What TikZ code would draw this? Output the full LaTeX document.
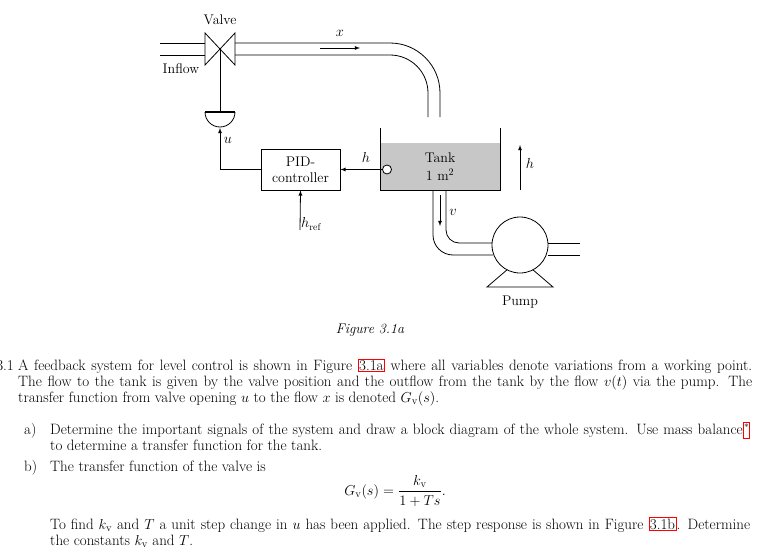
\documentclass[tikz,border=0pt]{standalone}
\usepackage{amsmath}
\usepackage{fontspec}
\newcommand{\rref}[1]{{\setlength{\fboxsep}{0.6pt}\setlength{\fboxrule}{0.8pt}\fcolorbox{red}{white}{#1}}}
\begin{document}
\begin{tikzpicture}[x=1pt,y=-1pt,font=\fontsize{14}{17}\selectfont,
  pipe/.style={line width=0.8pt},
  sig/.style={line width=0.8pt,-latex},
  lbl/.style={inner sep=1pt},
  tline/.style={anchor=base west,inner sep=0pt,font=\fontsize{15}{18}\selectfont}]
\useasboundingbox (0,0) rectangle (763,554);
% inflow pipe and valve
\draw[pipe] (160,43) -- (205,43) (160,55) -- (205,55);
\draw[pipe] (205,33) -- (235,65) -- (235,33) -- (205,65) -- cycle;
\node[lbl] (valve) at (220,20) {Valve};
\node[lbl] (inflow) at (181,69) {Inflow};
\draw[pipe] (235,43) -- (390,43) arc[start angle=-90,end angle=0,radius=50] -- (440,117);
\draw[pipe] (235,55) -- (390,55) arc[start angle=-90,end angle=0,radius=38] -- (428,117);
\coordinate (xa) at (320,48); \coordinate (xb) at (360,48);
\draw[sig] (xa) -- (xb);
\node[lbl] (xl) at (340,33) {$x$};
% actuator
\draw[pipe] (220,49) -- (220,112);
\draw[pipe] (205,112) arc[start angle=180,end angle=0,radius=15];
\draw[line width=1.6pt] (205,112) -- (235,112);
% PID
\node[draw,line width=0.8pt,minimum width=79pt,minimum height=41pt,align=center,inner sep=1pt] (pid) at (300.5,169.5) {PID-\\[-1pt]controller};
\coordinate (uc) at (220,128);
\draw[sig] (pid.west) -- (220,169.5) -- (uc);
\node[lbl] (ul) at (228,140) {$u$};
\coordinate (hr) at (300,230);
\draw[sig] (hr) -- (pid.south);
\node[lbl,anchor=west] (hrl) at (300,224) {$h_{\text{ref}}$};
% tank
\fill[black!22] (380,143) rectangle (500,190);
\draw[pipe] (380,128) -- (380,190) -- (500,190) -- (500,128);
\node[lbl] (tank) at (440,158) {Tank};
\node[lbl] (tank2) at (440,175) {1 m$^2$};
\node[draw,circle,line width=0.8pt,fill=white,minimum size=9pt,inner sep=0pt] (sensor) at (387,169.5) {};
\draw[sig] (sensor) -- (pid.east);
\node[lbl] (hl) at (366,157) {$h$};
\coordinate (ha) at (520,190); \coordinate (hb) at (520,145);
\draw[sig] (ha) -- (hb);
\node[lbl] (hl2) at (530,163) {$h$};
% outlet pipe
\draw[pipe] (446,190) -- (446,230) arc[start angle=180,end angle=90,radius=13] -- (493,243);
\draw[pipe] (433,190) -- (433,235) arc[start angle=180,end angle=90,radius=20] -- (493,255);
\coordinate (va) at (440,195); \coordinate (vb) at (440,226);
\draw[sig] (va) -- (vb);
\node[lbl] (vl) at (453,212) {$v$};
% pump
\draw[pipe] (508,269) -- (487,287) -- (553,287) -- (532,269);
\node[draw,circle,line width=0.8pt,fill=white,minimum size=56pt,inner sep=0pt] (pump) at (520,245) {};
\draw[pipe] (548,243) -- (580,243) (548,255) -- (580,255);
\node[lbl] (pumpl) at (520,302) {Pump};
\node[lbl] (fig) at (370,330) {\itshape Figure 3.1a};
% text
\node[tline,anchor=base east] (num) at (14,370) {3.1};
\node[tline] (l1) at (18,370) {\makebox[734pt][s]{A feedback system for level control is shown in Figure \rref{3.1a} where all variables denote variations from a working point.}};
\node[tline] (l2) at (18,386) {\makebox[734pt][s]{The flow to the tank is given by the valve position and the outflow from the tank by the flow $v(t)$ via the pump. The}};
\node[tline] (l3) at (18,402) {transfer function from valve opening $u$ to the flow $x$ is denoted $G_{\mathrm{v}}(s)$.};
\node[tline] (a) at (24,434) {a)};
\node[tline] (a1) at (50,434) {\makebox[700pt][s]{Determine the important signals of the system and draw a block diagram of the whole system. Use mass balance\rref{\vphantom{Ag}\raisebox{0.5ex}{\fontsize{9}{9}\selectfont*}}}};
\node[tline] (a2) at (50,450) {to determine a transfer function for the tank.};
\node[tline] (b) at (24,471) {b)};
\node[tline] (b1) at (50,471) {The transfer function of the valve is};
\node[inner sep=0pt,font=\fontsize{15}{18}\selectfont] (eq) at (395,491) {$\displaystyle G_{\mathrm{v}}(s)=\frac{k_{\mathrm{v}}}{1+Ts}.$};
\node[tline] (c1) at (50,529) {\makebox[700pt][s]{To find $k_{\mathrm{v}}$ and $T$ a unit step change in $u$ has been applied. The step response is shown in Figure \rref{3.1b}. Determine}};
\node[tline] (c2) at (50,545) {the constants $k_{\mathrm{v}}$ and $T$.};
\end{tikzpicture}
\end{document}
